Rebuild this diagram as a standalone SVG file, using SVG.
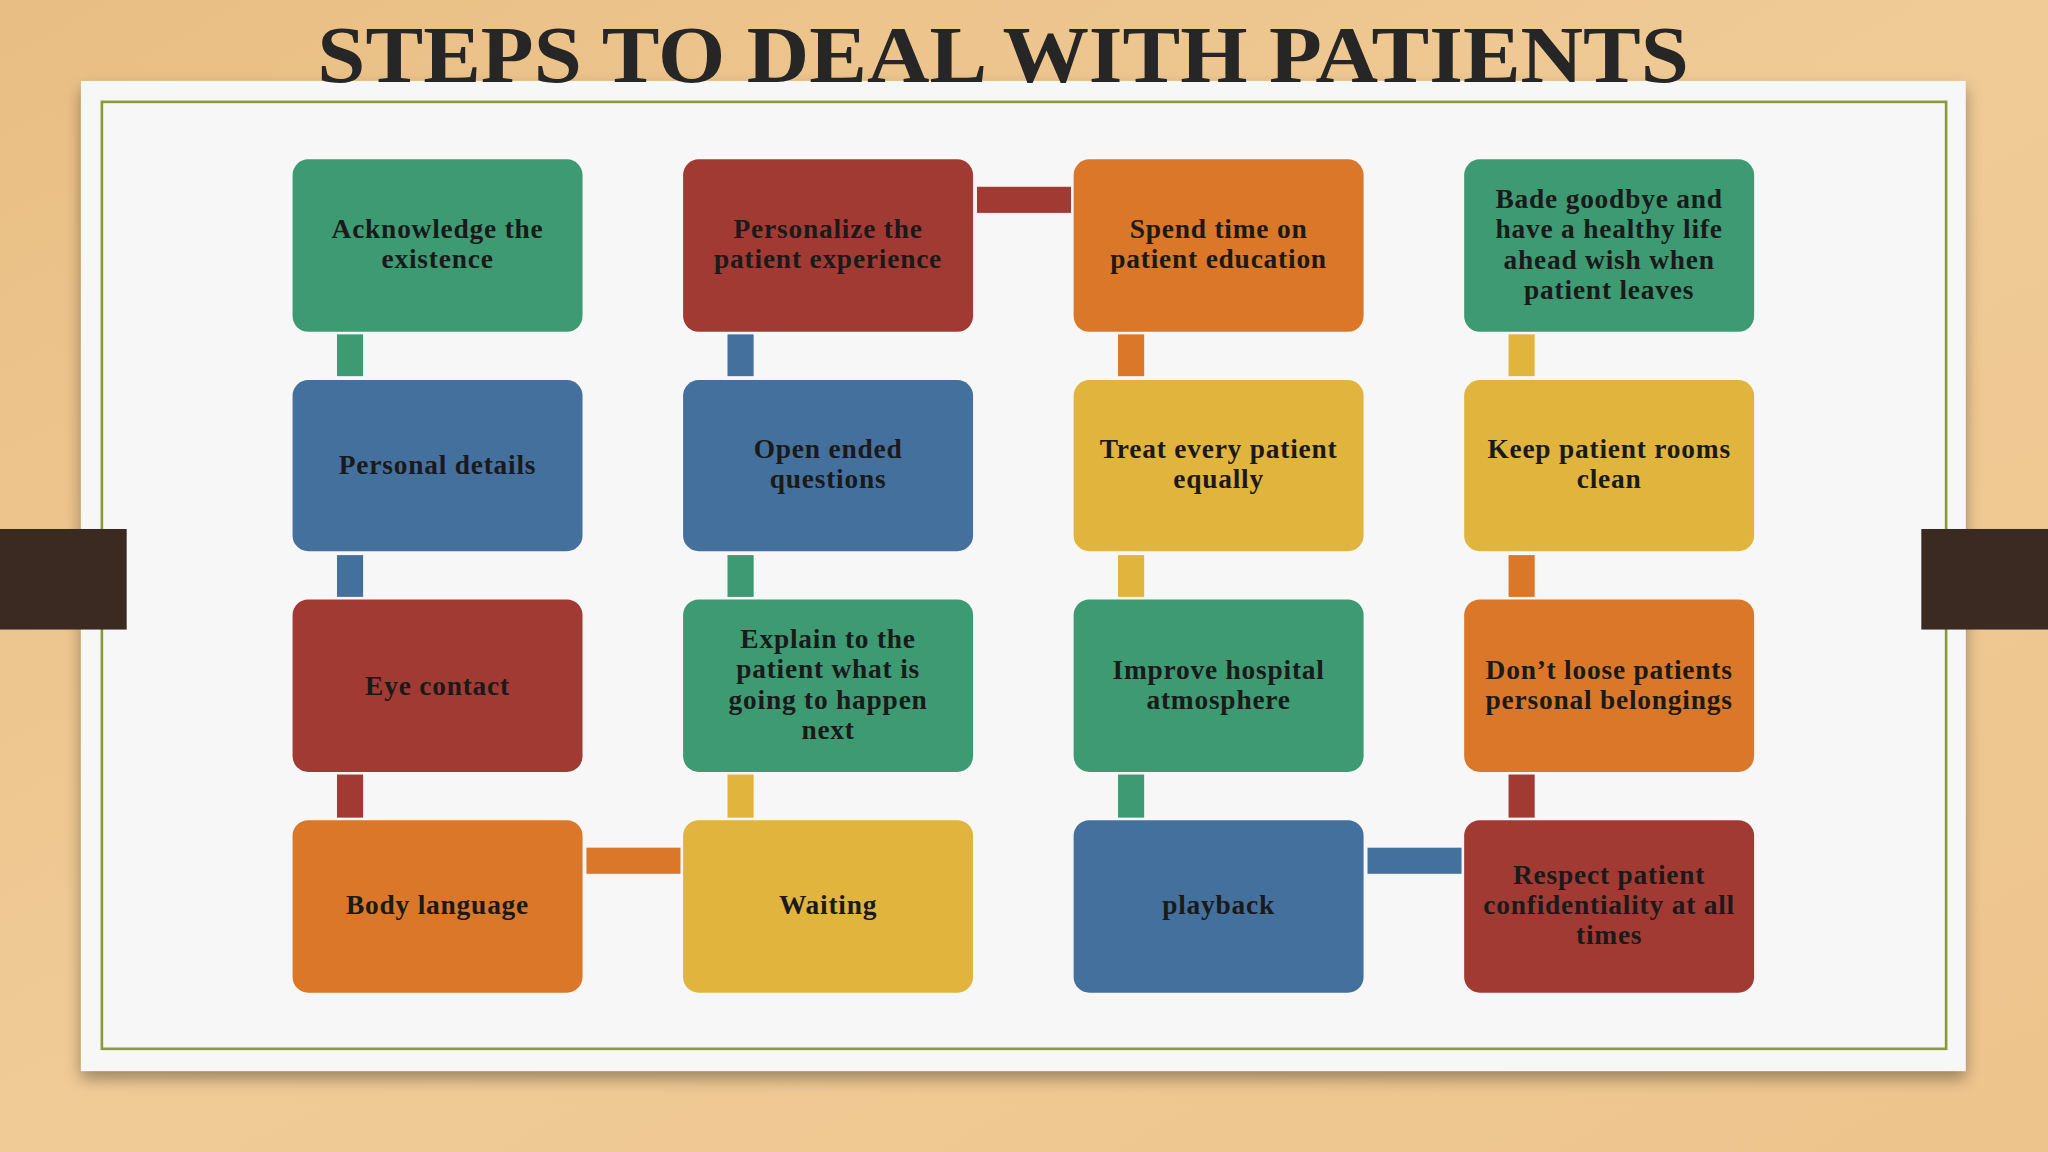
<svg xmlns="http://www.w3.org/2000/svg" width="2048" height="1152" viewBox="0 0 2048 1152">
<defs>
<linearGradient id="wood" x1="0" y1="0" x2="1" y2="1">
<stop offset="0" stop-color="#E9BE84"/><stop offset="0.5" stop-color="#F0CB96"/><stop offset="1" stop-color="#EDC48C"/>
</linearGradient>
<filter id="sh" x="-5%" y="-5%" width="110%" height="115%"><feDropShadow dx="0" dy="6" stdDeviation="6" flood-opacity="0.35"/></filter>
</defs>
<style>
.t{font-family:"Liberation Serif",serif;font-weight:bold;font-size:21px;letter-spacing:0.6px;fill:#1a1a1a;text-anchor:middle}
.g{fill:#3E9A72}.b{fill:#44709E}.r{fill:#A23A34}.o{fill:#DA7728}.y{fill:#E1B43E}
</style>
<g transform="scale(1.30612)">
<rect width="1568" height="882" fill="url(#wood)"/>
<rect x="62" y="62" width="1443" height="758" fill="#F7F7F7" filter="url(#sh)"/>
<rect x="78" y="78" width="1412" height="725" fill="none" stroke="#8A9A3A" stroke-width="2"/>
<rect x="0" y="405" width="97" height="77" fill="#3A2A22"/>
<rect x="1471" y="405" width="97" height="77" fill="#3A2A22"/>
<text x="768" y="63" textLength="1050" lengthAdjust="spacingAndGlyphs" style="font-family:'Liberation Serif',serif;font-weight:bold;font-size:62px;fill:#262626;text-anchor:middle">STEPS TO DEAL WITH PATIENTS</text>
<g id="connectors">
<rect class="g" x="258" y="256" width="20" height="32"/>
<rect class="b" x="258" y="425" width="20" height="32"/>
<rect class="r" x="258" y="593" width="20" height="33"/>
<rect class="b" x="557" y="256" width="20" height="32"/>
<rect class="g" x="557" y="425" width="20" height="32"/>
<rect class="y" x="557" y="593" width="20" height="33"/>
<rect class="o" x="856" y="256" width="20" height="32"/>
<rect class="y" x="856" y="425" width="20" height="32"/>
<rect class="g" x="856" y="593" width="20" height="33"/>
<rect class="y" x="1155" y="256" width="20" height="32"/>
<rect class="o" x="1155" y="425" width="20" height="32"/>
<rect class="r" x="1155" y="593" width="20" height="33"/>
<rect class="r" x="748" y="143" width="72" height="20"/>
<rect class="o" x="449" y="649" width="72" height="20"/>
<rect class="b" x="1047" y="649" width="72" height="20"/>
</g>
<g id="n1"><rect class="g" x="224" y="122" width="222" height="132" rx="12"/><text class="t" x="335" y="182">Acknowledge the</text><text class="t" x="335" y="205">existence</text></g>
<g id="n2"><rect class="b" x="224" y="291" width="222" height="131" rx="12"/><text class="t" x="335" y="363">Personal details</text></g>
<g id="n3"><rect class="r" x="224" y="459" width="222" height="132" rx="12"/><text class="t" x="335" y="532">Eye contact</text></g>
<g id="n4"><rect class="o" x="224" y="628" width="222" height="132" rx="12"/><text class="t" x="335" y="700">Body language</text></g>
<g id="n5"><rect class="y" x="523" y="628" width="222" height="132" rx="12"/><text class="t" x="634" y="700">Waiting</text></g>
<g id="n6"><rect class="g" x="523" y="459" width="222" height="132" rx="12"/><text class="t" x="634" y="496">Explain to the</text><text class="t" x="634" y="519">patient what is</text><text class="t" x="634" y="543">going to happen</text><text class="t" x="634" y="566">next</text></g>
<g id="n7"><rect class="b" x="523" y="291" width="222" height="131" rx="12"/><text class="t" x="634" y="351">Open ended</text><text class="t" x="634" y="374">questions</text></g>
<g id="n8"><rect class="r" x="523" y="122" width="222" height="132" rx="12"/><text class="t" x="634" y="182">Personalize the</text><text class="t" x="634" y="205">patient experience</text></g>
<g id="n9"><rect class="o" x="822" y="122" width="222" height="132" rx="12"/><text class="t" x="933" y="182">Spend time on</text><text class="t" x="933" y="205">patient education</text></g>
<g id="n10"><rect class="y" x="822" y="291" width="222" height="131" rx="12"/><text class="t" x="933" y="351">Treat every patient</text><text class="t" x="933" y="374">equally</text></g>
<g id="n11"><rect class="g" x="822" y="459" width="222" height="132" rx="12"/><text class="t" x="933" y="520">Improve hospital</text><text class="t" x="933" y="543">atmosphere</text></g>
<g id="n12"><rect class="b" x="822" y="628" width="222" height="132" rx="12"/><text class="t" x="933" y="700">playback</text></g>
<g id="n13"><rect class="r" x="1121" y="628" width="222" height="132" rx="12"/><text class="t" x="1232" y="677">Respect patient</text><text class="t" x="1232" y="700">confidentiality at all</text><text class="t" x="1232" y="723">times</text></g>
<g id="n14"><rect class="o" x="1121" y="459" width="222" height="132" rx="12"/><text class="t" x="1232" y="520">Don’t loose patients</text><text class="t" x="1232" y="543">personal belongings</text></g>
<g id="n15"><rect class="y" x="1121" y="291" width="222" height="131" rx="12"/><text class="t" x="1232" y="351">Keep patient rooms</text><text class="t" x="1232" y="374">clean</text></g>
<g id="n16"><rect class="g" x="1121" y="122" width="222" height="132" rx="12"/><text class="t" x="1232" y="159">Bade goodbye and</text><text class="t" x="1232" y="182">have a healthy life</text><text class="t" x="1232" y="206">ahead wish when</text><text class="t" x="1232" y="229">patient leaves</text></g>
</g>
</svg>
